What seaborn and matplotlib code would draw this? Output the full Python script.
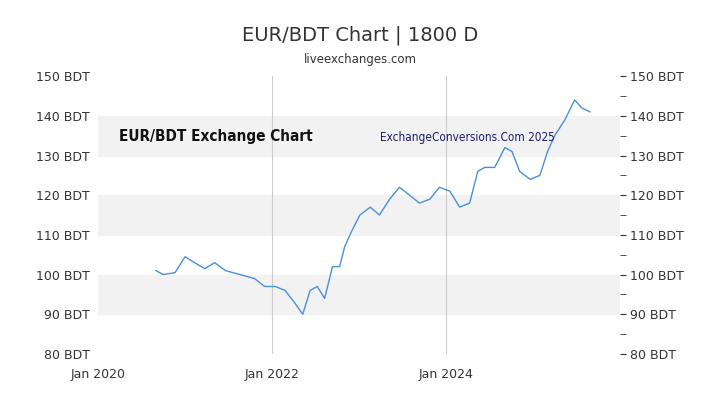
import matplotlib
matplotlib.use("Agg")
import matplotlib.pyplot as plt
import seaborn as sns
import pandas as pd

dates = ["2020-09-01","2020-10-01","2020-11-20","2021-01-01","2021-02-10","2021-03-25","2021-05-05",
         "2021-06-20","2021-08-20","2021-10-20","2021-12-01","2022-01-15","2022-02-25","2022-04-05",
         "2022-05-10","2022-06-10","2022-07-10","2022-08-10","2022-09-12","2022-10-12","2022-11-02",
         "2022-12-02","2023-01-05","2023-02-18","2023-03-28","2023-05-10","2023-06-20","2023-08-02",
         "2023-09-12","2023-10-26","2023-12-05","2024-01-18","2024-02-28","2024-04-10","2024-05-14",
         "2024-06-12","2024-07-24","2024-09-05","2024-10-05","2024-11-06","2024-12-20","2025-01-30",
         "2025-03-03","2025-04-02","2025-05-15","2025-06-25","2025-07-25","2025-08-28"]
rates = [101, 100, 100.5, 104.5, 103, 101.5, 103, 101, 100, 99, 97, 97, 96, 93, 90, 96, 97, 94,
         102, 102, 107, 111, 115, 117, 115, 119, 122, 120, 118, 119, 122, 121, 117, 118, 126, 127,
         127, 132, 131, 126, 124, 125, 131, 135, 139, 144, 142, 141]
yticks = [80, 90, 100, 110, 120, 130, 140, 150]
xtick_dates = ["2020-01-01", "2022-01-01", "2024-01-01"]
xtick_labels = ["Jan 2020", "Jan 2022", "Jan 2024"]

df = pd.DataFrame({"date": pd.to_datetime(dates), "rate": rates})

fig = plt.figure(figsize=(7.2, 4.05), dpi=100)
ax = fig.add_axes([0.136, 0.126, 0.725, 0.686])
for lo in (90, 110, 130):
    ax.axhspan(lo, lo + 10, color="#f2f2f2", zorder=0)
for d in xtick_dates[1:]:
    ax.axvline(pd.Timestamp(d), color="#cccccc", lw=0.8, zorder=1)
sns.lineplot(data=df, x="date", y="rate", ax=ax, color="#4a90d9", lw=1, zorder=3)
ax.set_xlim(pd.Timestamp("2020-01-01"), pd.Timestamp("2026-01-01"))
ax.set_ylim(80, 150)
ax.set_xticks(pd.to_datetime(xtick_dates))
ax.set_xticklabels(xtick_labels)
ax.set_yticks(yticks)
ax.set_yticklabels([f"{v} BDT" for v in yticks])
ax.set_xlabel(""); ax.set_ylabel("")
for s in ax.spines.values():
    s.set_visible(False)
ax.tick_params(axis="y", length=0, pad=6, labelsize=9, colors="#333333")
ax.tick_params(axis="x", length=0, pad=10, labelsize=9, colors="#333333")
ax2 = ax.twinx()
ax2.set_ylim(80, 150)
ax2.set_yticks(yticks)
ax2.set_yticklabels([f"{v} BDT" for v in yticks])
ax2.set_yticks(range(85, 150, 10), minor=True)
ax2.tick_params(axis="y", which="both", length=4, labelsize=9, colors="#333333")
for s in ax2.spines.values():
    s.set_visible(False)
ax.text(0.04, 0.765, "EUR/BDT Exchange Chart", transform=ax.transAxes, fontsize=11,
        fontweight="bold", fontstretch="condensed", family="DejaVu Sans", color="#111111")
ax.text(0.54, 0.765, "ExchangeConversions.Com 2025", transform=ax.transAxes, fontsize=8.5,
        fontstretch="condensed", family="DejaVu Sans", color="#1a1a6e")
fig.text(0.5, 0.9, "EUR/BDT Chart | 1800 D", ha="center", fontsize=14, color="#333333")
fig.text(0.5, 0.845, "liveexchanges.com", ha="center", fontsize=8.5, color="#333333")
fig.savefig("out.png", dpi=100)
